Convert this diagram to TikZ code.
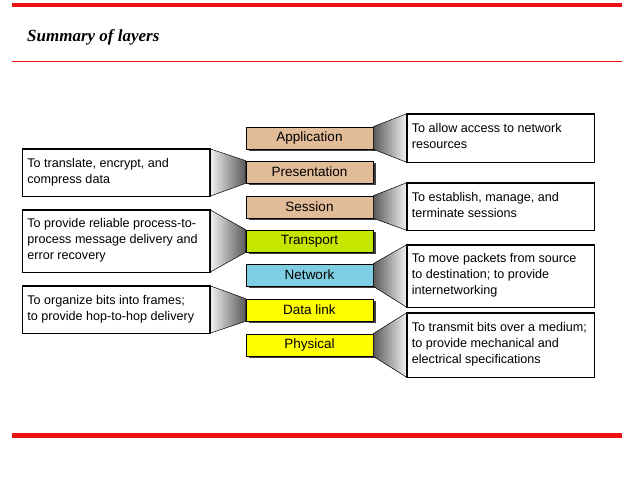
\documentclass[tikz,border=0pt]{standalone}
\usepackage{fontspec}
\setmainfont{Liberation Sans}
\newfontfamily\titlefont{Liberation Serif}
\usetikzlibrary{shadows}
\definecolor{tan}{HTML}{E2BC98}
\definecolor{lime}{HTML}{C4E600}
\definecolor{sky}{HTML}{7FCDE2}
\definecolor{yel}{HTML}{FFFF00}
\definecolor{redline}{HTML}{EE1111}
\tikzset{
  layer/.style={draw=black, line width=0.6pt, minimum width=127pt, minimum height=22pt, inner sep=0pt,
    font=\fontsize{13.5}{15}\selectfont,
    drop shadow={shadow xshift=2.5pt, shadow yshift=-2.5pt, fill=black!75, opacity=1}},
  note/.style={draw=black, line width=0.6pt, fill=white, minimum width=187pt, inner sep=0pt},
  ltext/.style={anchor=north west, align=left, inner sep=0pt, font=\fontsize{12.6}{16}\selectfont},
  funnel/.style={draw=black, line width=0.5pt}
}
\begin{document}
\begin{tikzpicture}[x=1pt,y=-1pt]
\useasboundingbox (0,0) rectangle (638,478);
\fill[redline] (12,3) rectangle (622,7);
\draw[redline, line width=1pt] (12,62) -- (622,62);
\fill[redline] (12,433) rectangle (622,438);
\node[anchor=west, inner sep=0pt, font=\titlefont\bfseries\itshape\fontsize{17}{20}\selectfont] (title) at (27,37) {Summary of layers};

% layers
\node[layer, fill=tan] (L1) at (309.5,138) {Application};
\node[layer, fill=tan] (L2) at (309.5,172) {Presentation};
\node[layer, fill=tan] (L3) at (309.5,207) {Session};
\node[layer, fill=lime] (L4) at (309.5,241) {Transport};
\node[layer, fill=sky] (L5) at (309.5,275) {Network};
\node[layer, fill=yel] (L6) at (309.5,310) {Data link};
\node[layer, fill=yel] (L7) at (309.5,345) {Physical};

% notes
\node[note, minimum height=48pt] (N1) at (500.5,138) {};
\node[note, minimum height=47pt] (N2) at (116,172.5) {};
\node[note, minimum height=47pt] (N3) at (500.5,206.5) {};
\node[note, minimum height=62pt] (N4) at (116,241) {};
\node[note, minimum height=62pt] (N5) at (500.5,276) {};
\node[note, minimum height=47pt] (N6) at (116,309.5) {};
\node[note, minimum height=64pt] (N7) at (500.5,345) {};

% funnels
\foreach \l/\n in {L1/N1,L3/N3,L5/N5,L7/N7}{
  \shade[funnel, left color=black!65, right color=black!5]
    (\l.north east) -- (\n.north west) -- (\n.south west) -- (\l.south east) -- cycle;
}
\foreach \l/\n in {L2/N2,L4/N4,L6/N6}{
  \shade[funnel, right color=black!65, left color=black!5]
    (\l.north west) -- (\n.north east) -- (\n.south east) -- (\l.south west) -- cycle;
}
\foreach \n in {N1,N2,N3,N4,N5,N6,N7}{ \draw[line width=0.6pt] (\n.north west) rectangle (\n.south east); }

\node[ltext] (T1) at ([shift={(5,9)}]N1.north west) {To allow access to network\\resources};
\node[ltext] (T2) at ([shift={(5,9)}]N2.north west) {To translate, encrypt, and\\compress data};
\node[ltext] (T3) at ([shift={(5,9)}]N3.north west) {To establish, manage, and\\terminate sessions};
\node[ltext] (T4) at ([shift={(5,8)}]N4.north west) {To provide reliable process-to-\\process message delivery and\\error recovery};
\node[ltext] (T5) at ([shift={(5,8)}]N5.north west) {To move packets from source\\to destination; to provide\\internetworking};
\node[ltext] (T6) at ([shift={(5,9)}]N6.north west) {To organize bits into frames;\\to provide hop-to-hop delivery};
\node[ltext] (T7) at ([shift={(5,9)}]N7.north west) {To transmit bits over a medium;\\to provide mechanical and\\electrical specifications};
\end{tikzpicture}
\end{document}
